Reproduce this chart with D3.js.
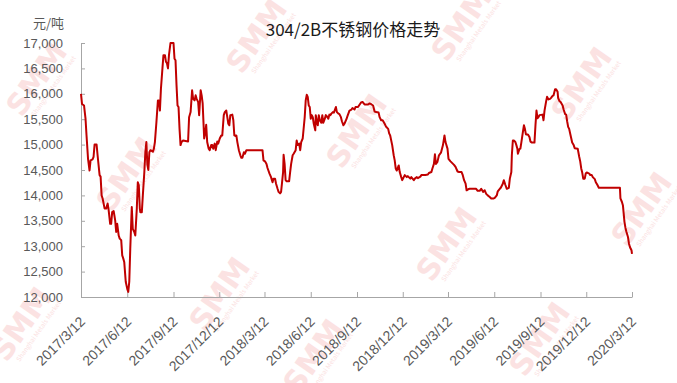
<!DOCTYPE html>
<html>
<head>
<meta charset="utf-8">
<script src="https://cdn.jsdelivr.net/npm/d3@7"></script>
<style>
  body { margin: 0; background: #fff; }
  svg { display: block; font-family: "Noto Sans CJK SC", "Noto Sans", sans-serif; }
</style>
</head>
<body>
<div id="chart"></div>
<script>
const title = '304/2B不锈钢价格走势';
const unitLabel = '元/吨';
const yTicks = [12000, 12500, 13000, 13500, 14000, 14500, 15000, 15500, 16000, 16500, 17000];
const xTicks = ['2017-03-12', '2017-06-12', '2017-09-12', '2017-12-12', '2018-03-12', '2018-06-12',
  '2018-09-12', '2018-12-12', '2019-03-12', '2019-06-12', '2019-09-12', '2019-12-12', '2020-03-12'];

// price readings, per year
const dates2017 = ['03-12','03-14','03-18','03-21','03-23','03-26','03-29','03-31','04-04','04-06','04-08','04-12',
  '04-14','04-18','04-20','04-22','04-24','04-28','05-01','05-04','05-06','05-09','05-11','05-13','05-16','05-19',
  '05-21','05-23','05-26','05-28','05-31','06-02','06-04','06-06','06-09','06-12','06-14','06-16','06-18','06-21',
  '06-23','06-26','06-28','07-01','07-03','07-05','07-07','07-08','07-11','07-13','07-16','07-18','07-20','07-22',
  '07-24','07-26','07-28','08-02','08-04','08-06','08-09','08-12','08-14','08-16','08-18','08-21','08-23','08-26',
  '08-28','08-30','09-01','09-03','09-06','09-12','09-14','09-16','09-18','09-20','09-22','09-24','09-26','09-28',
  '10-01','10-11','10-13','10-16','10-19','10-21','10-24','10-26','10-28','10-31','11-02','11-05','11-07','11-09',
  '11-12','11-14','11-16','11-18','11-21','11-23','11-26','11-28','11-30','12-03','12-05','12-08','12-10','12-13',
  '12-16','12-18','12-21','12-23','12-26','12-28','12-30'];
const prices2017 = [16000,15800,15770,15510,15180,14720,14490,14690,14710,14760,15000,15000,
  14790,14400,14370,14000,13940,13740,13740,13840,13710,13440,13440,13670,13690,13510,
  13280,13440,13210,13150,13120,12820,12760,12690,12300,12160,12100,12300,12950,13770,
  13340,13280,13210,13740,14260,14200,13740,13670,13670,14000,14460,14850,15050,14600,
  14500,14850,14890,14860,14920,15050,15440,15870,15870,15670,16100,16500,16760,16760,
  16630,16600,16500,16760,17000,17000,16690,16660,16170,15770,15740,15310,14990,15050,
  15080,15060,15540,15640,16070,15900,15870,15970,15900,15840,15580,16070,15970,15810,
  15120,15220,15390,15050,14920,14890,14990,14990,14920,15020,14890,15060,15020,15120,
  15180,15180,15580,15640,15670,15540,15410];

const dates2018 = ['01-01','01-03','01-07','01-09','01-11','01-13','01-15','01-17','01-20','01-23','01-25','01-27',
  '01-30','02-01','02-04','03-08','03-10','03-13','03-16','03-18','03-22','03-25','03-28','03-30','04-02','04-04',
  '04-07','04-09','04-12','04-14','04-16','04-18','04-19','04-21','04-23','04-25','04-30','05-02','05-04','05-07',
  '05-09','05-13','05-15','05-17','05-20','05-22','05-24','05-27','05-31','06-02','06-04','06-06','06-08','06-10',
  '06-12','06-14','06-16','06-18','06-21','06-22','06-24','06-26','06-28','06-30','07-03','07-05','07-07','07-10',
  '07-12','07-14','07-17','07-19','07-21','07-23','07-26','07-28','08-01','08-03','08-06','08-08','08-11','08-13',
  '08-16','08-18','08-22','08-24','08-28','09-01','09-03','09-07','09-09','09-14','09-16','09-20','09-23','09-27',
  '10-04','10-07','10-11','10-14','10-17','10-20','10-25','10-27','10-30','11-02','11-06','11-09','11-13','11-15',
  '11-17','11-21','11-24','11-26','11-28','11-30','12-04','12-06','12-09','12-11','12-14','12-16','12-20','12-22',
  '12-27','12-29'];
const prices2018 = [15380,15580,15590,15480,15180,15170,15180,15050,14890,14790,14740,14740,
  14850,14820,14890,14890,14690,14670,14620,14540,14430,14360,14260,14330,14330,14230,
  14130,14070,14040,14070,14260,14460,14800,14620,14300,14280,14280,14460,14620,14790,
  14820,14890,15080,14990,15020,14890,15050,15120,15540,15870,15980,15940,15770,15740,
  15510,15580,15540,15410,15280,15580,15450,15380,15580,15480,15430,15580,15430,15510,
  15580,15560,15510,15590,15580,15610,15640,15630,15740,15640,15610,15600,15540,15460,
  15380,15410,15500,15560,15670,15690,15720,15690,15740,15740,15770,15830,15840,15790,
  15790,15810,15790,15770,15650,15640,15630,15540,15480,15480,15410,15350,15310,15220,
  15180,14990,14790,14690,14530,14490,14590,14460,14360,14300,14360,14400,14360,14380,
  14330,14360];

const dates2019 = ['01-03','01-05','01-09','01-11','01-16','01-18','01-26','01-31','02-02','02-07','02-09','02-12',
  '02-14','02-16','02-19','02-22','02-26','03-02','03-05','03-07','03-11','03-13','03-17','03-20','03-24','03-27',
  '03-31','04-03','04-08','04-10','04-13','04-16','04-18','04-21','04-24','05-07','05-10','05-14','05-17','05-21',
  '05-24','05-27','05-30','06-03','06-06','06-11','06-13','06-17','06-19','06-23','06-25','06-29','07-01','07-04',
  '07-07','07-11','07-13','07-16','07-17','07-19','07-21','07-24','07-26','07-28','07-29','08-01','08-03','08-05',
  '08-08','08-10','08-12','08-14','08-18','08-21','08-23','08-26','08-31','09-02','09-04','09-06','09-08','09-10',
  '09-16','09-18','09-20','09-23','09-25','09-28','10-01','10-03','10-06','10-08','10-11','10-13','10-16','10-17',
  '10-20','10-22','10-26','10-28','10-31','11-02','11-04','11-06','11-08','11-10','11-12','11-14','11-17','11-19',
  '11-25','11-28','11-30','12-02','12-04','12-06','12-09','12-11','12-13','12-18','12-20','12-23','12-25','12-29',
  '12-31'];
const prices2019 = [14300,14330,14360,14340,14370,14400,14400,14410,14440,14460,14530,14620,
  14810,14620,14660,14790,14840,14990,15180,15050,14920,14720,14670,14640,14600,14560,
  14470,14460,14460,14410,14300,14230,14100,14120,14130,14130,14090,14090,14130,14070,
  14100,14030,14000,13970,13940,13940,13950,14000,14080,14130,14150,14230,14300,14210,
  14130,14150,14330,14460,14790,15080,15080,15050,14990,14920,14820,14910,14920,15050,
  15250,15380,15310,15200,15200,15150,15060,15040,15040,15380,15670,15520,15540,15580,
  15590,15480,15670,15840,15940,15890,15900,15920,15960,15970,16090,16090,16040,15920,
  15850,15840,15770,15690,15600,15590,15460,15350,15310,15220,15130,15040,14990,14930,
  14920,14760,14670,14530,14450,14330,14330,14430,14450,14430,14400,14400,14360,14320,
  14260];

const dates2020 = ['01-03','01-06','02-17','02-18','02-21','02-23','02-26','02-28','03-01','03-04','03-06','03-08',
  '03-11','03-12'];
const prices2020 = [14210,14150,14150,13940,13870,13800,13480,13360,13280,13180,13050,12980,
  12920,12850];

const parse = d3.timeParse('%Y-%m-%d');
const series = [
  ['2017', dates2017, prices2017], ['2018', dates2018, prices2018],
  ['2019', dates2019, prices2019], ['2020', dates2020, prices2020]
].flatMap(([yr, ds, ps]) => ds.map((d, i) => ({ date: parse(`${yr}-${d}`), value: ps[i] })));

const width = 677, height = 383;
const margin = { top: 43, right: 45, bottom: 86, left: 81 };

const svg = d3.select('#chart').append('svg')
  .attr('width', width)
  .attr('height', height);

// SMM watermarks, kept inside the picture
const marks = [[45, 85], [265, 42], [470, 30], [135, 180], [365, 137], [590, 90],
  [228, 300], [455, 250], [650, 215], [30, 330], [548, 345], [322, 362]];
marks.forEach(([cx, cy]) => {
  const g = svg.append('g').attr('transform', `translate(${cx},${cy}) rotate(-55)`);
  g.append('text')
    .attr('text-anchor', 'middle')
    .attr('font-family', '"DejaVu Sans", sans-serif')
    .attr('font-weight', 'bold')
    .attr('font-size', 30)
    .attr('fill', '#fbe2e2')
    .text('SMM');
  g.append('text')
    .attr('text-anchor', 'middle')
    .attr('y', 10)
    .attr('x', 4)
    .attr('font-size', 6.5)
    .attr('fill', '#fbe2e2')
    .text('Shanghai Metals Market');
});

const x = d3.scaleTime()
  .domain([parse(xTicks[0]), parse(xTicks[xTicks.length - 1])])
  .range([margin.left, width - margin.right]);

const y = d3.scaleLinear()
  .domain([yTicks[0], yTicks[yTicks.length - 1]])
  .range([height - margin.bottom, margin.top]);

// title
svg.append('text')
  .attr('x', 353)
  .attr('y', 36)
  .attr('text-anchor', 'middle')
  .style('font-size', '17px')
  .style('fill', '#1a1a1a')
  .text(title);

// unit
svg.append('text')
  .attr('x', 64)
  .attr('y', 28)
  .attr('text-anchor', 'end')
  .style('font-size', '13px')
  .style('fill', '#595959')
  .text(unitLabel);

// Y axis
const yAxis = svg.append('g')
  .attr('transform', `translate(${margin.left},0)`)
  .call(d3.axisLeft(y).tickValues(yTicks).tickFormat(d3.format(',')).tickSize(-4).tickSizeOuter(0).tickPadding(18));
yAxis.select('.domain').attr('stroke', '#a6a6a6');
yAxis.selectAll('.tick line').attr('stroke', '#a6a6a6');
yAxis.selectAll('text')
  .style('font-size', '13px')
  .style('fill', '#595959');

// X axis
const xAxis = svg.append('g')
  .attr('transform', `translate(0,${height - margin.bottom})`)
  .call(d3.axisBottom(x).tickValues(xTicks.map(parse)).tickSize(-5).tickSizeOuter(0)
    .tickFormat(d3.timeFormat('%Y/%-m/%-d')));
xAxis.select('.domain').attr('stroke', '#a6a6a6');
xAxis.selectAll('.tick line').attr('stroke', '#a6a6a6');
xAxis.selectAll('text')
  .attr('x', 0)
  .attr('y', 0)
  .attr('dy', '0.35em')
  .attr('text-anchor', 'end')
  .attr('transform', 'translate(1,22) rotate(-45)')
  .style('font-size', '14px')
  .style('fill', '#595959');

// price line
const line = d3.line()
  .x(d => x(d.date))
  .y(d => y(d.value));

svg.append('path')
  .datum(series)
  .attr('fill', 'none')
  .attr('stroke', '#c00000')
  .attr('stroke-width', 2)
  .attr('stroke-linejoin', 'round')
  .attr('d', line);
</script>
</body>
</html>
